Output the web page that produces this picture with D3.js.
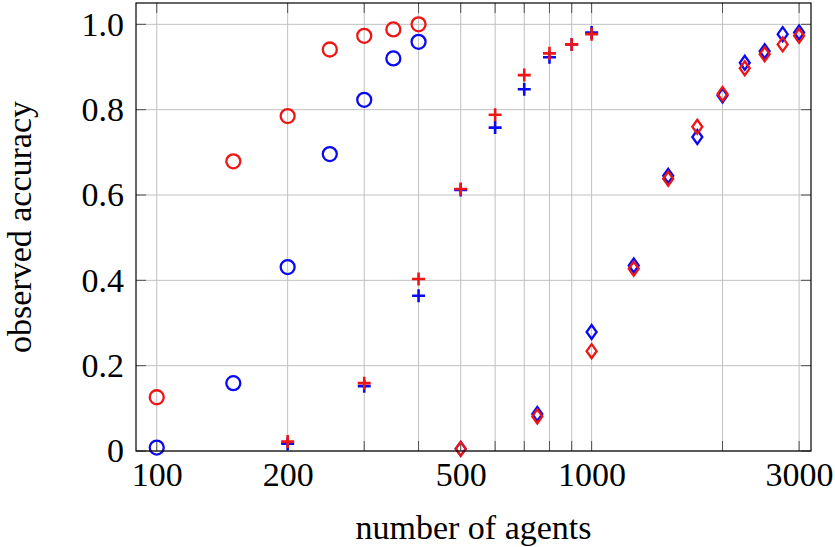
<!DOCTYPE html>
<!-- scatter of observed accuracy vs number of agents, log x axis -->
<html>
<head>
<meta charset="utf-8">
<style>
  body { margin: 0; background: white; }
  svg text { font-family: "Liberation Serif", serif; fill: black; }
</style>
</head>
<body>
<div id="graph_div"></div>

<script src="https://d3js.org/d3.v7.min.js"></script>

<script>

// data
let circle_x = [100, 150, 200, 250, 300, 350, 400];
let circle_blue = [0.008, 0.159, 0.431, 0.696, 0.823, 0.920, 0.959];
let circle_red = [0.126, 0.679, 0.785, 0.941, 0.973, 0.988, 1.0];

let plus_x = [200, 300, 400, 500, 600, 700, 800, 900, 1000];
let plus_blue = [0.017, 0.152, 0.364, 0.612, 0.758, 0.848, 0.923, 0.953, 0.981];
let plus_red = [0.022, 0.159, 0.403, 0.614, 0.788, 0.881, 0.932, 0.953, 0.977];

let diamond_x = [500, 750, 1000, 1250, 1500, 1750, 2000, 2250, 2500, 2750, 3000];
let diamond_blue = [0.005, 0.087, 0.279, 0.435, 0.645, 0.736, 0.833, 0.910, 0.937, 0.977, 0.981];
let diamond_red = [0.005, 0.081, 0.234, 0.427, 0.638, 0.760, 0.837, 0.897, 0.930, 0.953, 0.973];

let x_labels = [100, 200, 500, 1000, 3000];
let x_grid = [100, 200, 300, 400, 500, 600, 700, 800, 900, 1000, 2000, 3000];
let y_ticks = [0, 0.2, 0.4, 0.6, 0.8, 1.0];

let blue = "#0a0af0", red = "#ee1515";
let font = "Liberation Serif, serif";
let font_size = 34;

let width = 835, height = 547;
let margin = {top: 3, right: 24, bottom: 96, left: 136};
let plot_w = width - margin.left - margin.right,
    plot_h = height - margin.top - margin.bottom;

let svg = d3.select("#graph_div")
  .append("svg")
    .attr("width", width)
    .attr("height", height);

let g = svg.append("g")
    .attr("transform", "translate(" + margin.left + "," + margin.top + ")");

// scales
let x = d3.scaleLog().domain([89.6, 3195]).range([0, plot_w]);
let y = d3.scaleLinear().domain([0, 1.05]).range([plot_h, 0]);

// grid
g.selectAll(".xgrid").data(x_grid).enter().append("line")
    .attr("x1", d => x(d)).attr("x2", d => x(d))
    .attr("y1", 0).attr("y2", plot_h)
    .attr("stroke", "#c0c0c0").attr("stroke-width", 1);
g.selectAll(".ygrid").data(y_ticks).enter().append("line")
    .attr("x1", 0).attr("x2", plot_w)
    .attr("y1", d => y(d)).attr("y2", d => y(d))
    .attr("stroke", "#c0c0c0").attr("stroke-width", 1);

// inner tick marks on all four sides
let tick_len = 10;
x_grid.forEach(function(d) {
  g.append("line").attr("x1", x(d)).attr("x2", x(d)).attr("y1", 0).attr("y2", tick_len)
    .attr("stroke", "#505050").attr("stroke-width", 1);
  g.append("line").attr("x1", x(d)).attr("x2", x(d)).attr("y1", plot_h - tick_len).attr("y2", plot_h)
    .attr("stroke", "#505050").attr("stroke-width", 1);
});
y_ticks.forEach(function(d) {
  g.append("line").attr("x1", 0).attr("x2", tick_len).attr("y1", y(d)).attr("y2", y(d))
    .attr("stroke", "#505050").attr("stroke-width", 1);
  g.append("line").attr("x1", plot_w - tick_len).attr("x2", plot_w).attr("y1", y(d)).attr("y2", y(d))
    .attr("stroke", "#505050").attr("stroke-width", 1);
});

// tick labels via axes
let x_axis = g.append("g")
    .attr("transform", "translate(0," + plot_h + ")")
    .call(d3.axisBottom(x).tickValues(x_labels).tickFormat(d3.format("d")).tickSize(0).tickPadding(11));
let y_axis = g.append("g")
    .call(d3.axisLeft(y).tickValues(y_ticks)
      .tickFormat(d => d === 0 ? "0" : d.toFixed(1)).tickSize(0).tickPadding(12));
[x_axis, y_axis].forEach(function(a) {
  a.attr("font-family", font).attr("font-size", font_size);
  a.select(".domain").remove();
  a.selectAll("text").attr("font-family", font).attr("font-size", font_size).attr("fill", "black");
});

// markers
function draw_circles(xs, ys, color) {
  g.selectAll(null).data(xs.map((d, i) => [d, ys[i]])).enter().append("circle")
      .attr("cx", d => x(d[0])).attr("cy", d => y(d[1]))
      .attr("r", 7)
      .attr("fill", "none").attr("stroke", color).attr("stroke-width", 2.3);
}
function draw_plus(xs, ys, color) {
  let s = 6.5;
  g.selectAll(null).data(xs.map((d, i) => [d, ys[i]])).enter().append("path")
      .attr("d", d => "M" + (x(d[0]) - s) + "," + y(d[1]) + "h" + 2 * s +
                      "M" + x(d[0]) + "," + (y(d[1]) - s) + "v" + 2 * s)
      .attr("fill", "none").attr("stroke", color).attr("stroke-width", 2.6);
}
function draw_diamonds(xs, ys, color) {
  let w = 5, h = 7;
  g.selectAll(null).data(xs.map((d, i) => [d, ys[i]])).enter().append("path")
      .attr("d", function(d) {
        let cx = x(d[0]), cy = y(d[1]);
        return "M" + cx + "," + (cy - h) + "L" + (cx + w) + "," + cy +
               "L" + cx + "," + (cy + h) + "L" + (cx - w) + "," + cy + "Z";
      })
      .attr("fill", "none").attr("stroke", color).attr("stroke-width", 2.3);
}

draw_circles(circle_x, circle_blue, blue);
draw_circles(circle_x, circle_red, red);
draw_plus(plus_x, plus_blue, blue);
draw_plus(plus_x, plus_red, red);
draw_diamonds(diamond_x, diamond_blue, blue);
draw_diamonds(diamond_x, diamond_red, red);

// frame
g.append("rect")
    .attr("x", 0).attr("y", 0).attr("width", plot_w).attr("height", plot_h)
    .attr("fill", "none").attr("stroke", "black").attr("stroke-width", 1.2);

// axis titles
svg.append("text")
    .attr("x", margin.left + plot_w / 2)
    .attr("y", 539)
    .attr("text-anchor", "middle")
    .attr("font-family", font).attr("font-size", font_size)
    .text("number of agents");
svg.append("text")
    .attr("transform", "translate(31," + (margin.top + plot_h / 2) + ") rotate(-90)")
    .attr("text-anchor", "middle")
    .attr("font-family", font).attr("font-size", font_size)
    .text("observed accuracy");

</script>
</body>
</html>
